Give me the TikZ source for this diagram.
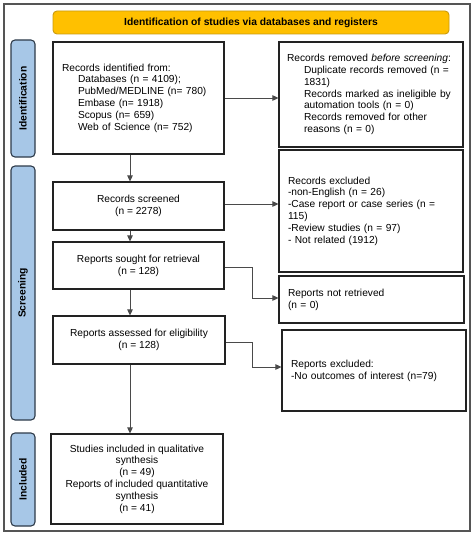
\documentclass[tikz,border=0pt]{standalone}
\usepackage{fontspec}
\setmainfont{Liberation Sans}
\usetikzlibrary{arrows.meta,calc}
\definecolor{hdrfill}{HTML}{FFC000}
\definecolor{hdrline}{HTML}{C99A10}
\definecolor{sidefill}{HTML}{A7C7E7}
\definecolor{sideline}{HTML}{2E3B4A}
\definecolor{boxline}{HTML}{222222}
\definecolor{arrline}{HTML}{4A4A4A}
\definecolor{frameline}{HTML}{555555}
\tikzset{
  box/.style={draw=boxline, line width=1.1pt, rectangle, inner sep=0pt, font=\fontsize{10.2}{11.8}\selectfont},
  side/.style={draw=sideline, fill=sidefill, line width=1.1pt, rounded corners=4pt, inner sep=0pt},
  sidetext/.style={rotate=90, font=\bfseries\fontsize{10.3}{11}\selectfont},
  conn/.style={draw=arrline, line width=0.8pt, -{Triangle[length=6pt,width=5.5pt]}}
}
\begin{document}
\begin{tikzpicture}[x=1pt,y=-1pt]
\useasboundingbox (0,0) rectangle (474,535);
\fill[white] (0,0) rectangle (474,535);
\draw[frameline, line width=1.4pt] (4,4) rectangle (470,531);
% header
\node[draw=hdrline, fill=hdrfill, line width=0.9pt, rounded corners=4pt, minimum width=396pt, minimum height=23pt, inner sep=0pt,
  font=\bfseries\fontsize{10.3}{11}\selectfont] (hdr) at (251,22.5) {Identification of studies via databases and registers};
% sidebars
\node[side, minimum width=24pt, minimum height=117pt] (sid) at (23,98.5) {};
\node[sidetext] (sidt) at (sid.center) {Identification};
\node[side, minimum width=24pt, minimum height=254pt] (sscr) at (23,293) {};
\node[sidetext] (sscrt) at (sscr.center) {Screening};
\node[side, minimum width=24pt, minimum height=93pt] (sinc) at (23,479.5) {};
\node[sidetext] (sinct) at (sinc.center) {Included};
% left column
\node[box, minimum width=171pt, minimum height=112pt, text width=153pt, align=left] (ident) at (138.5,98)
 {Records identified from:\\
  \hspace*{16pt}Databases (n = 4109);\\
  \hspace*{16pt}PubMed/MEDLINE (n= 780)\\
  \hspace*{16pt}Embase (n= 1918)\\
  \hspace*{16pt}Scopus (n= 659)\\
  \hspace*{16pt}Web of Science (n= 752)\par\vspace{7pt}};
\node[box, minimum width=171pt, minimum height=48pt, align=center] (scr) at (138.5,206)
 {Records screened\\(n = 2278)};
\node[box, minimum width=171pt, minimum height=47pt, align=center] (sought) at (138.5,265.5)
 {Reports sought for retrieval\\(n = 128)};
\node[box, minimum width=172pt, minimum height=48pt, align=center] (assess) at (139,340)
 {Reports assessed for eligibility\\(n = 128)};
\node[box, minimum width=172pt, minimum height=90pt, align=center] (incl) at (137,479)
 {Studies included in qualitative\\synthesis\\(n = 49)\\Reports of included quantitative\\synthesis\\(n = 41)};
% right column
\node[box, minimum width=184pt, minimum height=105pt, text width=168pt, align=left] (remv) at (371,94.5)
 {Records removed \textit{before screening}:\\
  \hspace*{17pt}Duplicate records removed (n =\\
  \hspace*{17pt}1831)\\
  \hspace*{17pt}Records marked as ineligible by\\
  \hspace*{17pt}automation tools (n = 0)\\
  \hspace*{17pt}Records removed for other\\
  \hspace*{17pt}reasons (n = 0)};
\node[box, minimum width=184pt, minimum height=122pt, text width=166pt, align=left] (excl) at (371,211)
 {Records excluded\\
  -non-English (n = 26)\\
  -Case report or case series (n =\\
  115)\\
  -Review studies (n = 97)\\
  - Not related (1912)};
\node[box, minimum width=185pt, minimum height=47pt, text width=167pt, align=left] (notret) at (371.5,299.5)
 {Reports not retrieved\\(n = 0)};
\node[box, minimum width=184pt, minimum height=81pt, text width=166pt, align=left] (rexcl) at (374,370.5)
 {Reports excluded:\\-No outcomes of interest (n=79)};
% connectors
\coordinate (vx) at (130,0);
\coordinate (bx) at (252,0);
\draw[conn] (ident.south -| vx) -- (scr.north -| vx);
\draw[conn] (scr.south -| vx) -- (sought.north -| vx);
\draw[conn] (sought.south -| vx) -- (assess.north -| vx);
\draw[conn] (assess.south -| vx) -- (incl.north -| vx);
\draw[conn] (ident.east) -- (ident.east -| remv.west);
\draw[conn] ($(scr.east)+(0,-2)$) -- ($(scr.east -| excl.west)+(0,-2)$);
\draw[conn] ($(sought.east)+(0,1.5)$) -- ($(bx |- sought.east)+(0,1.5)$) -- ($(bx |- notret.west)+(0,-1.5)$) -- ($(notret.west)+(0,-1.5)$);
\draw[conn] ($(assess.east)+(0,2)$) -- ($(bx |- assess.east)+(0,2)$) -- ($(bx |- rexcl.west)+(0,-3.5)$) -- ($(rexcl.west)+(0,-3.5)$);
\end{tikzpicture}
\end{document}
